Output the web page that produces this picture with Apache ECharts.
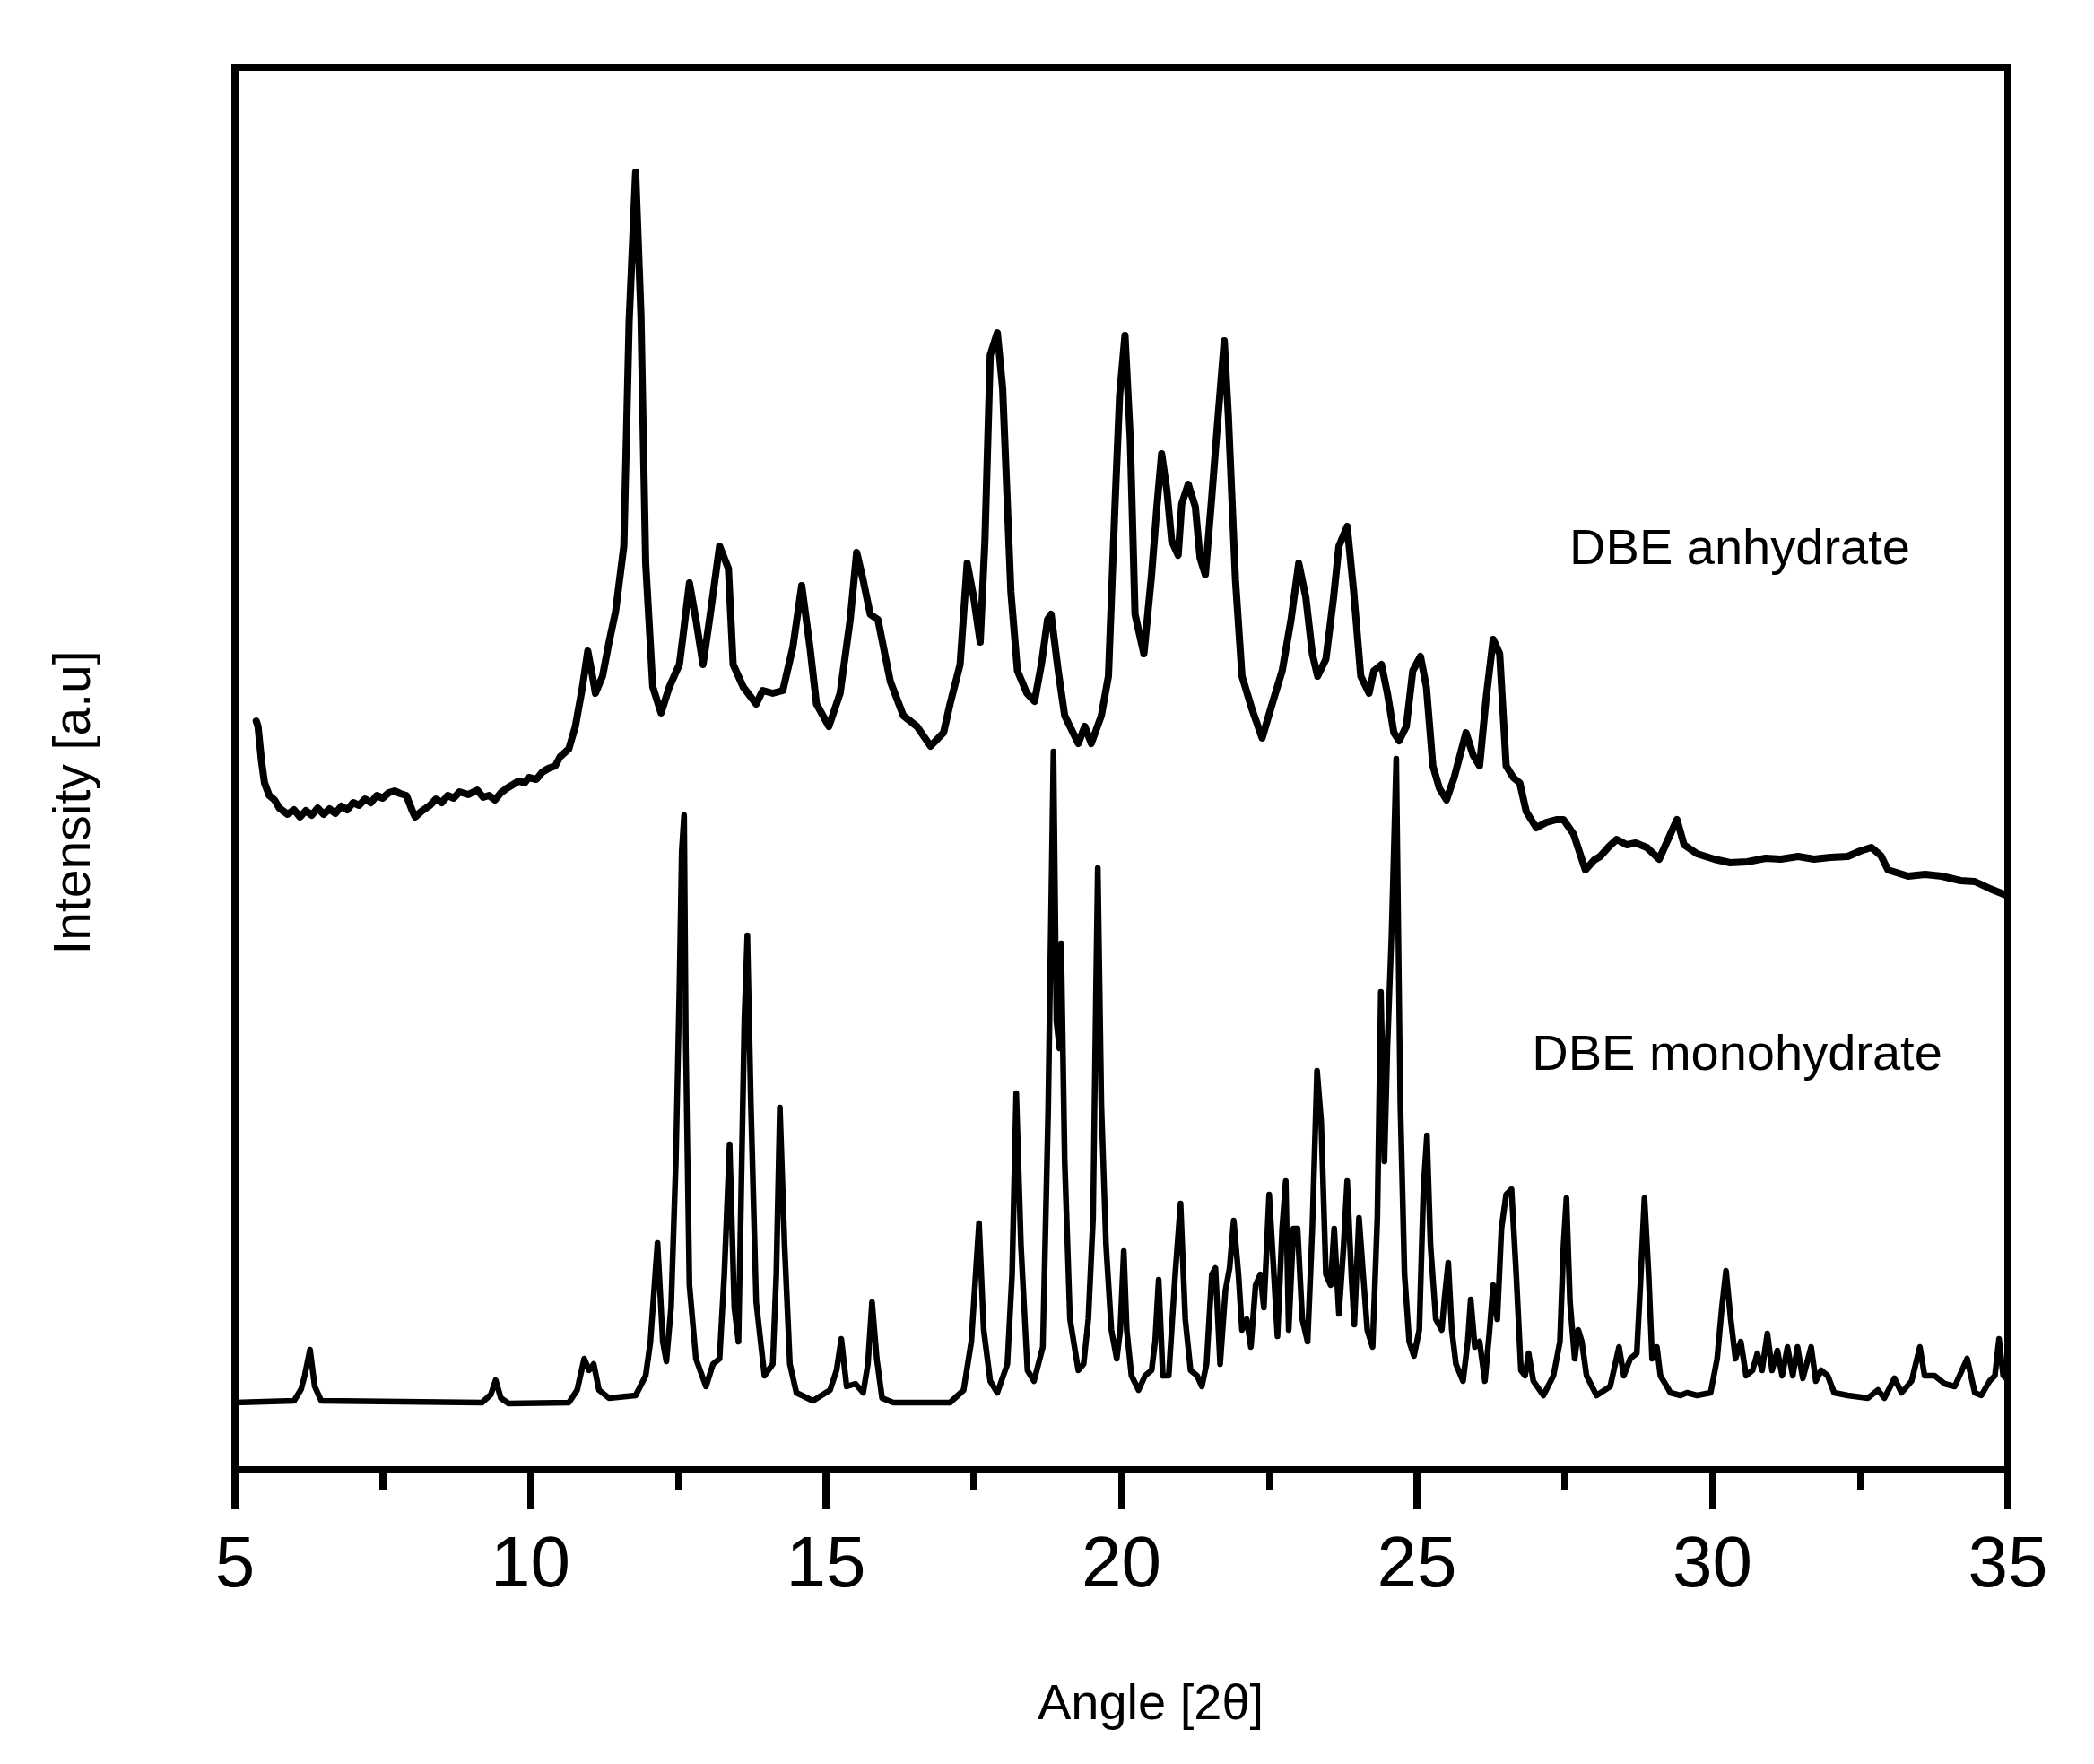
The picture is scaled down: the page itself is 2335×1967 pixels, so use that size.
<!DOCTYPE html>
<html>
<head>
<meta charset="utf-8">
<script src="https://cdn.jsdelivr.net/npm/echarts@6/dist/echarts.min.js"></script>
<style>
html,body{margin:0;padding:0;background:#fff;}
#chart{width:2335px;height:1967px;}
</style>
</head>
<body>
<div id="chart"></div>
<script>
// X-ray powder diffraction patterns, intensity in arbitrary units
const anhydrateAngle = [5.36,5.39,5.45,5.50,5.58,5.67,5.75,5.89,6.0,6.1,6.2,6.3,6.4,6.5,6.6,6.7,6.8,6.9,7.0,7.1,7.2,7.3,7.4,7.5,7.6,7.7,7.8,7.9,8.0,8.05,8.15,8.3,8.4,8.5,8.6,8.7,8.8,8.95,9.1,9.2,9.3,9.4,9.5,9.6,9.7,9.8,9.9,9.97,10.1,10.2,10.3,10.42,10.5,10.65,10.76,10.88,10.97,11.05,11.1,11.22,11.33,11.44,11.58,11.67,11.78,11.87,11.95,12.07,12.21,12.35,12.52,12.58,12.69,12.80,12.92,13.03,13.2,13.35,13.43,13.6,13.82,13.93,14.1,14.27,14.44,14.59,14.73,14.84,15.05,15.24,15.41,15.52,15.63,15.75,15.88,16.09,16.31,16.54,16.77,16.99,17.1,17.27,17.39,17.5,17.61,17.69,17.78,17.9,17.99,18.13,18.24,18.4,18.53,18.65,18.75,18.81,18.93,19.04,19.27,19.38,19.49,19.66,19.78,19.89,19.97,20.06,20.15,20.23,20.38,20.51,20.6,20.68,20.77,20.85,20.96,21.02,21.13,21.25,21.33,21.42,21.53,21.62,21.74,21.81,21.93,22.04,22.21,22.38,22.55,22.72,22.87,23.0,23.12,23.23,23.32,23.46,23.59,23.68,23.82,23.93,24.05,24.19,24.27,24.4,24.5,24.61,24.7,24.82,24.93,25.06,25.16,25.27,25.38,25.5,25.63,25.83,25.95,26.06,26.17,26.29,26.4,26.51,26.63,26.74,26.85,27.02,27.19,27.36,27.48,27.65,27.85,28.0,28.1,28.25,28.38,28.55,28.7,28.89,29.1,29.29,29.4,29.52,29.74,30.03,30.3,30.59,30.9,31.16,31.45,31.72,32.0,32.29,32.5,32.69,32.85,32.97,33.31,33.6,33.88,34.2,34.44,34.7,35.0];
const anhydrateIntensity = [835,829,790,766,752,747,738,731,736,728,735,730,738,731,737,732,740,736,744,741,748,744,752,749,755,757,754,752,735,728,734,741,748,744,752,749,756,753,758,750,752,747,755,760,764,768,766,772,770,778,782,785,795,804,829,873,913,885,866,885,923,957,1030,1281,1447,1287,1011,873,844,873,898,929,989,948,898,948,1030,1005,898,873,854,869,866,869,917,986,917,854,829,866,948,1023,992,954,948,879,841,829,807,822,854,898,1011,973,923,1036,1243,1268,1206,979,891,866,857,900,948,954,891,841,810,829,810,841,885,1074,1199,1265,1149,954,910,998,1074,1133,1092,1036,1020,1077,1099,1074,1017,998,1086,1162,1259,1174,992,885,848,816,854,891,948,1011,973,910,885,904,973,1030,1052,979,885,866,891,898,866,822,813,829,891,907,873,785,760,747,772,822,797,785,860,926,910,785,772,766,734,716,722,725,725,709,669,680,684,695,703,697,699,694,681,709,725,697,687,681,677,678,682,681,684,681,683,684,690,694,685,669,662,664,662,657,656,648,640];

const monohydrateAngle = [5.0,6.0,6.12,6.18,6.27,6.35,6.46,9.18,9.33,9.41,9.5,9.63,10.65,10.79,10.91,10.99,11.07,11.16,11.33,11.78,11.95,12.03,12.15,12.24,12.3,12.38,12.46,12.52,12.56,12.6,12.63,12.69,12.8,12.97,13.09,13.2,13.28,13.37,13.45,13.52,13.57,13.62,13.67,13.73,13.82,13.96,14.1,14.16,14.22,14.3,14.39,14.5,14.78,15.07,15.18,15.26,15.35,15.5,15.63,15.71,15.78,15.86,15.95,16.14,17.1,17.33,17.46,17.59,17.67,17.78,17.9,18.07,18.15,18.22,18.3,18.41,18.52,18.67,18.76,18.85,18.9,18.95,18.98,19.04,19.13,19.27,19.36,19.44,19.52,19.57,19.6,19.66,19.74,19.83,19.92,19.98,20.04,20.09,20.17,20.29,20.4,20.51,20.57,20.63,20.7,20.8,20.91,21.0,21.08,21.17,21.28,21.36,21.44,21.53,21.59,21.67,21.76,21.83,21.9,21.98,22.04,22.12,22.19,22.27,22.35,22.41,22.5,22.58,22.64,22.72,22.78,22.83,22.91,22.98,23.06,23.15,23.23,23.31,23.38,23.46,23.54,23.6,23.68,23.76,23.82,23.89,23.94,24.02,24.09,24.16,24.25,24.33,24.39,24.45,24.5,24.57,24.65,24.72,24.79,24.87,24.95,25.04,25.11,25.17,25.23,25.32,25.42,25.47,25.53,25.59,25.66,25.78,25.86,25.91,25.98,26.06,26.15,26.23,26.29,26.36,26.43,26.51,26.6,26.68,26.76,26.83,26.89,26.97,27.14,27.31,27.42,27.48,27.53,27.59,27.67,27.73,27.79,27.87,28.04,28.27,28.42,28.5,28.61,28.72,28.78,28.85,28.92,28.98,29.06,29.12,29.29,29.46,29.57,29.74,29.97,30.08,30.16,30.23,30.31,30.39,30.48,30.57,30.68,30.76,30.84,30.93,31.01,31.1,31.18,31.27,31.36,31.44,31.53,31.67,31.75,31.84,31.95,32.06,32.29,32.63,32.8,32.91,33.08,33.2,33.37,33.51,33.59,33.76,33.93,34.1,34.31,34.44,34.55,34.69,34.78,34.85,34.92,35.0];
const monohydrateIntensity = [75,77,90,105,134,93,77,75,84,100,80,74,75,89,124,111,118,89,80,83,105,143,253,143,121,181,344,533,690,730,470,206,124,93,118,124,218,363,181,143,325,502,596,407,187,105,118,218,404,250,118,86,77,89,111,146,93,96,86,118,187,124,80,75,75,89,143,275,156,99,86,118,218,420,250,111,99,137,400,801,500,470,587,344,168,111,118,168,281,533,671,407,250,156,124,156,244,156,105,89,105,111,143,212,105,105,218,297,168,111,105,93,118,218,225,118,200,225,278,218,156,168,137,206,218,181,307,218,149,269,322,156,269,269,168,143,269,445,388,218,206,269,174,250,322,218,162,281,218,156,137,281,533,344,470,596,793,407,218,143,127,156,313,373,250,168,156,193,231,156,118,99,143,190,137,143,99,156,206,168,269,307,313,218,111,105,130,99,83,105,143,250,303,187,124,156,143,105,83,93,137,105,124,130,206,303,218,124,137,105,86,83,86,83,86,124,181,222,168,124,143,105,111,130,111,152,111,133,105,137,105,137,102,137,99,111,105,86,83,80,89,80,102,86,99,137,105,105,96,93,124,86,83,99,105,146,105,100];

const xTicks = {min: 5, max: 35, interval: 5};
const seriesNames = ['DBE anhydrate', 'DBE monohydrate'];
const axisTitles = {x: 'Angle [2θ]', y: 'Intensity [a.u]'};

const pairs = (xs, ys) => xs.map((x, i) => [x, ys[i]]);

const chart = echarts.init(document.getElementById('chart'));
const FONT = '"Liberation Sans", Arial, sans-serif';

chart.setOption({
  animation: false,
  backgroundColor: '#fff',
  grid: {
    left: 262, top: 75, width: 1977, height: 1564,
    show: true, borderColor: '#000', borderWidth: 8, backgroundColor: 'transparent'
  },
  xAxis: {
    type: 'value', min: xTicks.min, max: xTicks.max, interval: xTicks.interval,
    axisLine: {show: true, onZero: false, lineStyle: {color: '#000', width: 8}},
    axisTick: {show: true, inside: false, length: 44, lineStyle: {color: '#000', width: 8}},
    minorTick: {show: true, splitNumber: 2, length: 22, lineStyle: {color: '#000', width: 8}},
    splitLine: {show: false},
    minorSplitLine: {show: false},
    axisLabel: {color: '#000', fontSize: 80, fontFamily: FONT, margin: 68}
  },
  yAxis: {
    type: 'value', min: 0, max: 1564,
    axisLine: {show: true, lineStyle: {color: '#000', width: 8}},
    axisTick: {show: false}, axisLabel: {show: false}, splitLine: {show: false}
  },
  series: [
    {
      name: seriesNames[0], type: 'line', data: pairs(anhydrateAngle, anhydrateIntensity),
      showSymbol: false, symbol: 'none',
      lineStyle: {color: '#000', width: 8, join: 'round', cap: 'round'}
    },
    {
      name: seriesNames[1], type: 'line', data: pairs(monohydrateAngle, monohydrateIntensity),
      showSymbol: false, symbol: 'none',
      lineStyle: {color: '#000', width: 6.5, join: 'round', cap: 'round'}
    }
  ],
  graphic: [
    {type: 'text', x: 1283, y: 1902, style: {text: axisTitles.x, fill: '#000', font: '56px ' + FONT, textAlign: 'center', textVerticalAlign: 'middle'}},
    {type: 'text', x: 84, y: 895, rotation: Math.PI / 2, style: {text: axisTitles.y, fill: '#000', font: '57px ' + FONT, textAlign: 'center', textVerticalAlign: 'middle'}},
    {type: 'text', x: 1940, y: 614, style: {text: seriesNames[0], fill: '#000', font: '56px ' + FONT, textAlign: 'center', textVerticalAlign: 'middle'}},
    {type: 'text', x: 1937, y: 1178, style: {text: seriesNames[1], fill: '#000', font: '56px ' + FONT, textAlign: 'center', textVerticalAlign: 'middle'}}
  ]
});
</script>
</body>
</html>
